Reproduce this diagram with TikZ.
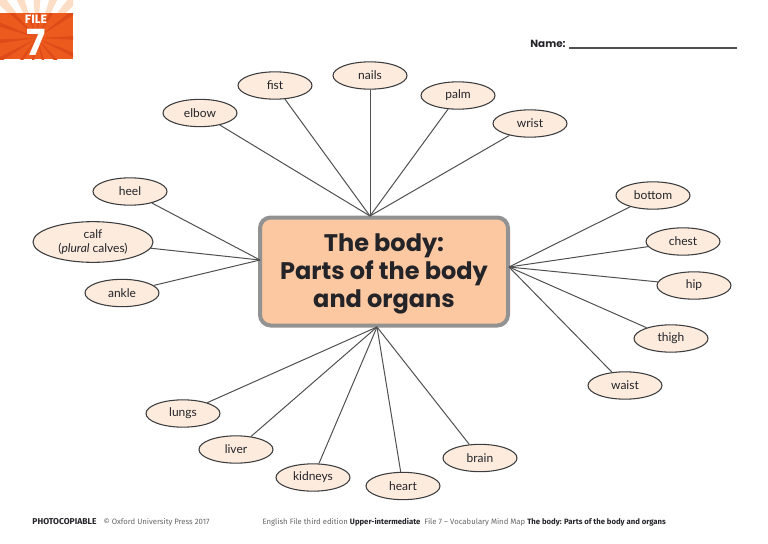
\documentclass[tikz,border=0pt]{standalone}
\usepackage{fontspec}
\setmainfont{Lato}
\newfontfamily\titlefont{Poppins}
\newfontfamily\footfont{Fira Sans}
\usetikzlibrary{shapes.geometric}
\definecolor{bodyfill}{RGB}{253,236,222}
\definecolor{hubfill}{RGB}{251,200,162}
\definecolor{hubline}{RGB}{146,146,146}
\definecolor{spokeline}{RGB}{80,80,80}
\definecolor{partline}{RGB}{60,60,62}
\definecolor{filebadge}{RGB}{236,90,30}
\definecolor{fileray}{RGB}{222,74,24}
\definecolor{filepale}{RGB}{252,222,198}
\definecolor{inktext}{RGB}{35,35,40}
\tikzset{every picture/.style={line width=0.75pt}}
\tikzset{
  bodypart/.style={ellipse,draw=partline,fill=bodyfill,line width=0.8pt,minimum width=55.5pt,minimum height=20.5pt,inner sep=0pt,align=center,font=\fontsize{9}{10.5}\selectfont,text=inktext},
  spoke/.style={draw=spokeline,line width=0.75pt},
  foottext/.style={anchor=west,inner sep=0pt,font=\footfont\fontsize{5.8}{6}\selectfont}
}

\begin{document}
\begin{tikzpicture}[x=0.75pt,y=0.75pt,yscale=-1,xscale=1]
\useasboundingbox (0,0) rectangle (768,543);

%Badge rays
\begin{scope}
\clip (0,0) rectangle (73,13);
\foreach \ang in {-152,-132,-112,-90,-68,-48,-30}
  \fill [filepale] (37,40) -- ++(\ang-5:70) -- ++(\ang+90:12) -- cycle;
\end{scope}
%Badge
\fill [filebadge] (0,13) rectangle (73,59);
\begin{scope}
\clip (0,13) rectangle (73,59);
\foreach \ang in {0,25,...,335}
  \fill [fileray] (37,38) -- ++(\ang-3:70) -- ++(\ang+90:7) -- cycle;
\end{scope}
% Text Node
\node (filelabel) at (36,19.5) [inner sep=0pt,text=white,font=\titlefont\bfseries\fontsize{9}{9}\selectfont] {FILE};
% Text Node
\node (filenumber) at (36,42) [inner sep=0pt,text=white,font=\titlefont\bfseries\fontsize{27}{27}\selectfont] {7};

% Text Node
\node (namelabel) at (548,44) [inner sep=0pt,text=inktext,font=\titlefont\bfseries\fontsize{7.8}{8}\selectfont] {Name:};
\coordinate (nameleft) at (569,48);
\coordinate (nameright) at (737,48);
\draw [draw=spokeline,line width=0.9pt] (nameleft) -- (nameright);

%Central box
\node (hub) at (384,271.5) [rectangle,rounded corners=8pt,draw=hubline,fill=hubfill,line width=3pt,minimum width=186pt,minimum height=81pt,inner sep=0pt,align=center,text=inktext,font=\titlefont\fontsize{18}{21}\selectfont\bfseries] {\rule{0pt}{17.5pt}The body:\\Parts of the body\\and organs};

\coordinate (hubtop) at (370,216);
\coordinate (hubleft) at (260,260);
\coordinate (hubright) at (509,267);
\coordinate (hubbottom) at (377,327);

%Top group
\node (elbow) at (200,113) [bodypart] {elbow};
\node (fist) at (275,85.5) [bodypart] {fist};
\node (nails) at (370,75.5) [bodypart] {nails};
\node (palm) at (458,95.5) [bodypart] {palm};
\node (wrist) at (530,123.5) [bodypart] {wrist};
%Left group
\node (heel) at (130,191.5) [bodypart] {heel};
\node (calf) at (93,242) [bodypart,minimum width=90pt,minimum height=30.5pt] {calf\\(\textit{plural} calves)};
\node (ankle) at (122,293) [bodypart] {ankle};
%Right group
\node (bottom) at (653,195.5) [bodypart] {bottom};
\node (chest) at (683,241.5) [bodypart] {chest};
\node (hip) at (694,285.5) [bodypart] {hip};
\node (thigh) at (671,338.5) [bodypart] {thigh};
\node (waist) at (625,385.5) [bodypart] {waist};
%Bottom group
\node (lungs) at (183,413.5) [bodypart] {lungs};
\node (liver) at (236,449.5) [bodypart] {liver};
\node (kidneys) at (313,477.5) [bodypart] {kidneys};
\node (heart) at (403,486) [bodypart] {heart};
\node (brain) at (480,458) [bodypart] {brain};

%Straight Lines
\draw [spoke] (elbow) -- (hubtop);
\draw [spoke] (fist) -- (hubtop);
\draw [spoke] (nails) -- (hubtop);
\draw [spoke] (palm) -- (hubtop);
\draw [spoke] (wrist) -- (hubtop);
\draw [spoke] (heel) -- (hubleft);
\draw [spoke] (calf) -- (hubleft);
\draw [spoke] (ankle) -- (hubleft);
\draw [spoke] (bottom) -- (hubright);
\draw [spoke] (chest) -- (hubright);
\draw [spoke] (hip) -- (hubright);
\draw [spoke] (thigh) -- (hubright);
\draw [spoke] (waist) -- (hubright);
\draw [spoke] (lungs) -- (hubbottom);
\draw [spoke] (liver) -- (hubbottom);
\draw [spoke] (kidneys) -- (hubbottom);
\draw [spoke] (heart) -- (hubbottom);
\draw [spoke] (brain) -- (hubbottom);

% Text Node
\node (footphoto) at (32,522) [foottext,text=inktext,font=\footfont\fontsize{6.4}{7}\selectfont] {\textbf{PHOTOCOPIABLE}};
% Text Node
\node (footpress) at (103,522) [foottext,text=black!60] {© Oxford University Press 2017};
% Text Node
\node (footfile) at (262,522) [foottext,text=black!60] {English File third edition \textcolor{inktext}{\textbf{Upper-intermediate}}\ \ File 7 – Vocabulary Mind Map \textcolor{inktext}{\textbf{The body: Parts of the body and organs}}};

\end{tikzpicture}
\end{document}
